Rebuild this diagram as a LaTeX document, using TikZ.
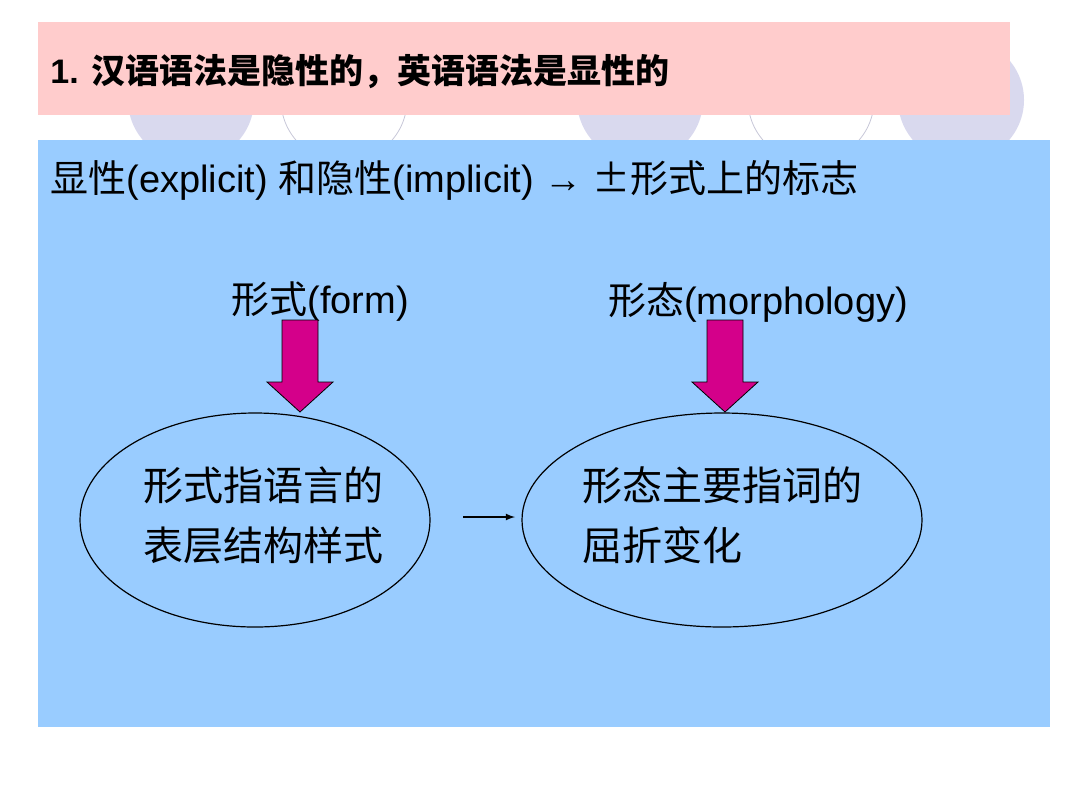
\documentclass[tikz,border=0pt]{standalone}
\usepackage{fontspec}
\setmainfont{Liberation Sans}
\newfontfamily\cjk{Noto Sans CJK SC}
\usetikzlibrary{shapes.geometric,positioning}
\definecolor{titlepink}{HTML}{FFCCCC}
\definecolor{panelblue}{HTML}{99CCFF}
\definecolor{ringlav}{HTML}{D9D9EE}
\definecolor{arrowmag}{HTML}{D4008A}
\tikzset{
  bigtext/.style={font=\fontsize{19}{23}\selectfont, inner sep=0pt},
  bubtext/.style={font=\fontsize{20}{30}\selectfont\cjk, inner sep=0pt, anchor=west, align=left},
  bubble/.style={ellipse, draw=black, semithick},
  blockarrow/.style={draw=black, fill=arrowmag}
}
\begin{document}
\begin{tikzpicture}[x=0.5pt,y=-0.5pt]
  \useasboundingbox (0,0) rectangle (1080,810);
  % rings behind the title
  \foreach \cx in {191,640,961} \fill[ringlav] (\cx,100) ellipse (63 and 62);
  \foreach \cx in {344,811} \draw[ringlav!80!gray, fill=white] (\cx,100) ellipse (63 and 62);
  \fill[titlepink] (38,22) rectangle (1010,115);
  \fill[panelblue] (38,140) rectangle (1050,727);

  \node[anchor=west, font=\fontsize{17}{20}\selectfont\bfseries, inner sep=0pt] (title) at (50,72) {1. {\cjk 汉语语法是隐性的，英语语法是显性的}};
  \node[bigtext, anchor=west] (intro) at (50,180) {{\cjk 显性}(explicit) {\cjk 和隐性}(implicit) → {\cjk ±形式上的标志}};

  \node[bigtext] (form) at (320,302) {{\cjk 形式}(form)};
  \node[bigtext] (morph) at (758,302) {{\cjk 形态}(morphology)};

  \node[bubble, minimum width=175pt, minimum height=107pt] (formdef) at (255,520) {};
  \node[bubble, minimum width=200pt, minimum height=107pt] (morphdef) at (722,520) {};
  \node[bubtext] at (143,515) {形式指语言的\\表层结构样式};
  \node[bubtext] at (582,515) {形态主要指词的\\屈折变化};

  % block arrows
  \foreach \cx in {300,725}
    \draw[blockarrow] (\cx-18,320) -- (\cx+18,320) -- (\cx+18,382) -- (\cx+33,382)
      -- (\cx,412) -- (\cx-33,382) -- (\cx-18,382) -- cycle;

  \coordinate (linkstart) at (463,517);
  \coordinate (linkend) at (515,517);
  \draw[semithick, -latex] (linkstart) -- (linkend);
\end{tikzpicture}
\end{document}
